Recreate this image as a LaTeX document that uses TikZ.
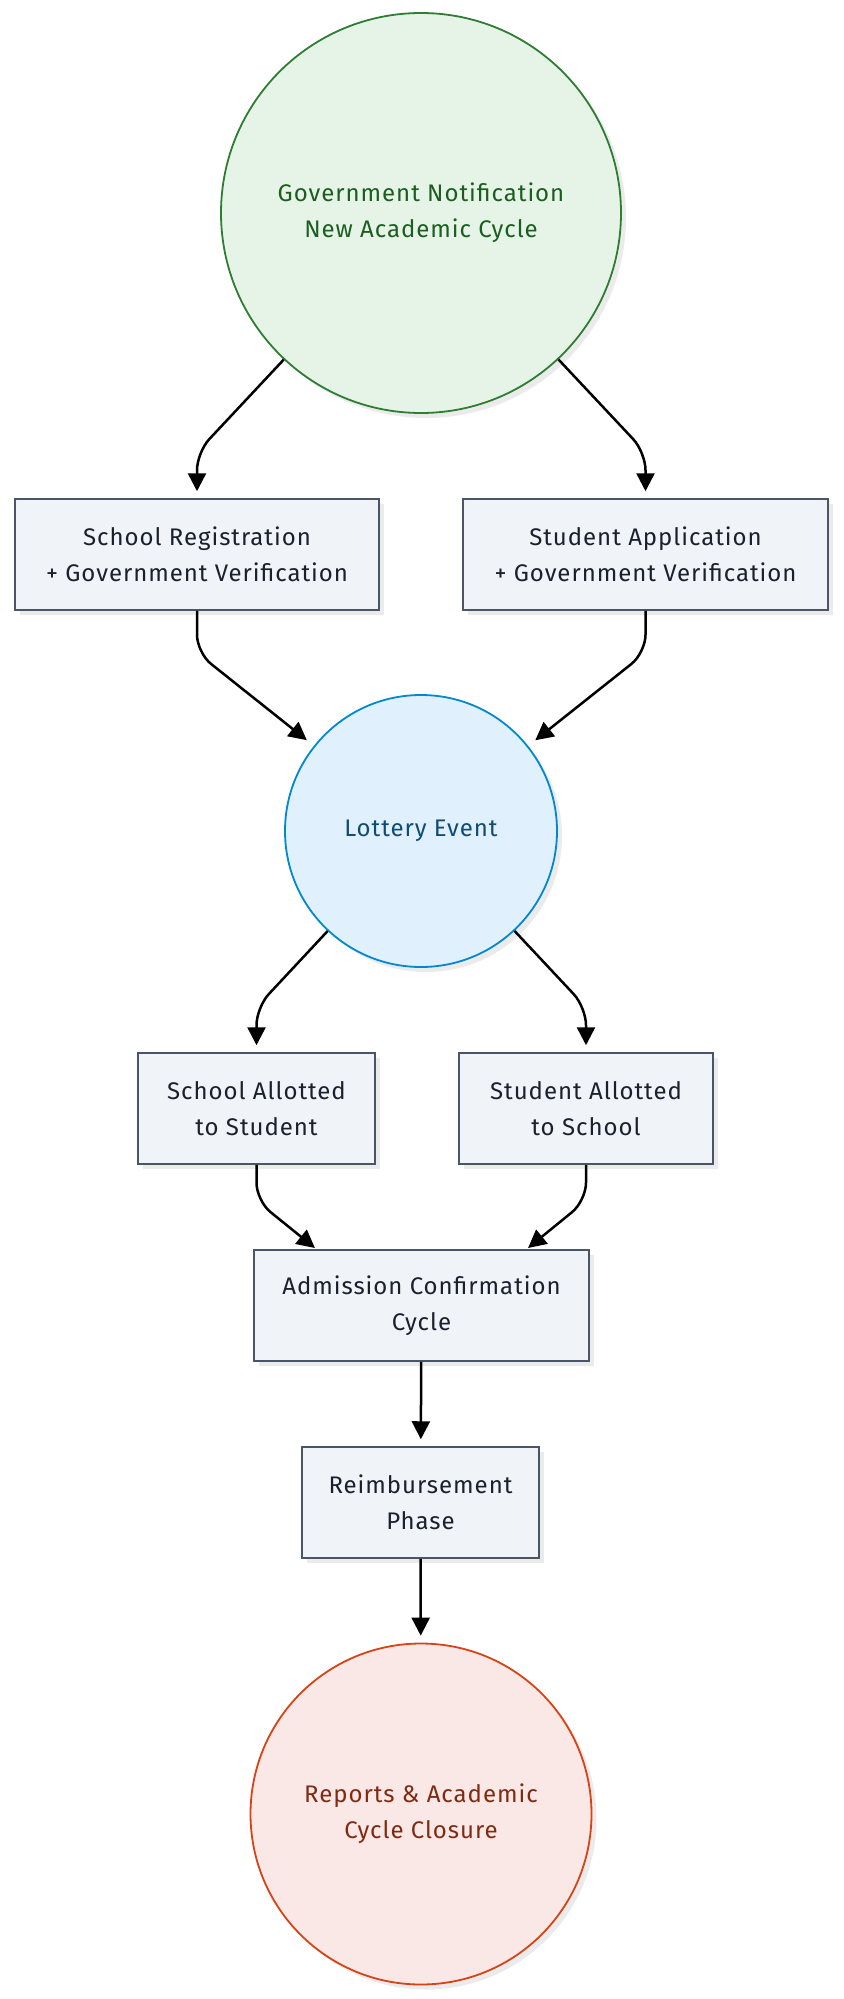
\documentclass[tikz,border=0pt]{standalone}
\usepackage{fontspec}
\setmainfont{Fira Sans}[LetterSpace=4]
\usetikzlibrary{arrows.meta,shadows}
\definecolor{gfill}{HTML}{E6F4E7}
\definecolor{gline}{HTML}{2E7D32}
\definecolor{gtext}{HTML}{1B5E20}
\definecolor{bfill}{HTML}{E0F0FC}
\definecolor{bline}{HTML}{0288D1}
\definecolor{btext}{HTML}{0F4C75}
\definecolor{rfill}{HTML}{FAE8E6}
\definecolor{rline}{HTML}{D84315}
\definecolor{rtext}{HTML}{7F2B12}
\definecolor{boxfill}{HTML}{F0F3F8}
\definecolor{boxline}{HTML}{4A5568}
\definecolor{boxtext}{HTML}{1A202C}
\tikzset{
  shad/.style={drop shadow={shadow xshift=5pt,shadow yshift=-5pt,fill=black,opacity=0.08}},
  stepbox/.style={draw=boxline,fill=boxfill,line width=1.5pt,text=boxtext,minimum height=111pt,align=center,inner sep=0pt,shad,
    font=\fontsize{24}{36}\selectfont},
  circ/.style={circle,line width=1.8pt,align=center,inner sep=0pt,shad,font=\fontsize{24}{36}\selectfont},
  conn/.style={draw=black,line width=2.5pt,rounded corners=18pt,-{Triangle[length=18pt,width=18pt]},shorten >=7pt},
}
\begin{document}
\begin{tikzpicture}[x=1pt,y=-1pt]
\useasboundingbox (0,0) rectangle (843,1999);
\node[circ,draw=gline,fill=gfill,text=gtext,minimum size=400pt] (gov) at (421,213) {Government Notification\\New Academic Cycle};
\node[stepbox,minimum width=364pt] (reg) at (197,554.5) {School Registration\\+ Government Verification};
\node[stepbox,minimum width=365pt] (app) at (645.5,554.5) {Student Application\\+ Government Verification};
\node[circ,draw=bline,fill=bfill,text=btext,minimum size=272pt] (lot) at (421,831) {Lottery Event};
\node[stepbox,minimum width=237pt] (sa) at (256.5,1108.5) {School Allotted\\to Student};
\node[stepbox,minimum width=254pt] (sta) at (586,1108.5) {Student Allotted\\to School};
\node[stepbox,minimum width=335pt] (adm) at (421.5,1305.5) {Admission Confirmation\\Cycle};
\node[stepbox,minimum width=237pt] (reim) at (420.5,1502.5) {Reimbursement\\Phase};
\node[circ,draw=rline,fill=rfill,text=rtext,minimum size=341pt] (rep) at (421,1814) {Reports \& Academic\\Cycle Closure};

\draw[conn] (gov) -- ([yshift=46pt]reg.north) -- (reg.north);
\draw[conn] (gov) -- ([yshift=46pt]app.north) -- (app.north);
\draw[conn,shorten >=9pt] (reg.south) -- ([yshift=-42pt]reg.south) -- (lot);
\draw[conn,shorten >=9pt] (app.south) -- ([yshift=-42pt]app.south) -- (lot);
\draw[conn] (lot) -- ([yshift=45pt]sa.north) -- (sa.north);
\draw[conn] (lot) -- ([yshift=45pt]sta.north) -- (sta.north);
\draw[conn,shorten >=2pt] (sa.south) -- ([yshift=-36pt]sa.south) -- ([xshift=-105pt]adm.north);
\draw[conn,shorten >=2pt] (sta.south) -- ([yshift=-36pt]sta.south) -- ([xshift=105pt]adm.north);
\draw[conn] (adm) -- (reim);
\draw[conn] (reim) -- (rep);
\end{tikzpicture}
\end{document}
